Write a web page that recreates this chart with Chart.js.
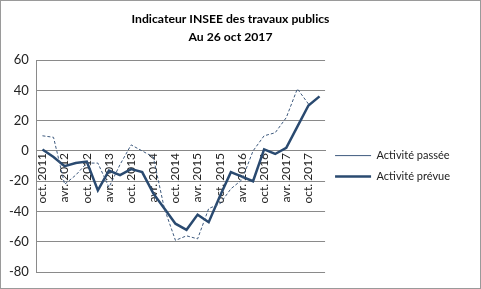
<!DOCTYPE html>
<html lang="fr">
<head>
<meta charset="utf-8">
<title>Indicateur INSEE des travaux publics</title>
<script src="https://cdn.jsdelivr.net/npm/chart.js@4/dist/chart.umd.min.js"></script>
<style>
    html, body { margin: 0; padding: 0; background: #fff; }
    #wrap { width: 479px; height: 287px; border: 1px solid #9a9a9a; }
</style>
</head>
<body>
<div id="wrap"><canvas id="chart" width="479" height="287"></canvas></div>
<script>
// Trimestres, d'oct. 2011 a janv. 2018
const quarters = [
    'oct. 2011', 'janv. 2012', 'avr. 2012', 'juil. 2012', 'oct. 2012',
    'janv. 2013', 'avr. 2013', 'juil. 2013', 'oct. 2013',
    'janv. 2014', 'avr. 2014', 'juil. 2014', 'oct. 2014',
    'janv. 2015', 'avr. 2015', 'juil. 2015', 'oct. 2015',
    'janv. 2016', 'avr. 2016', 'juil. 2016', 'oct. 2016',
    'janv. 2017', 'avr. 2017', 'juil. 2017', 'oct. 2017',
    'janv. 2018'
];
const activitePassee = [10, 9, -22, -16, -8, -8, -24, -9, 4, 0, -4, -38, -59, -56, -58, -38, -35, -25, -19, 0, 10, 12, 22, 41, 31, null];
const activitePrevue = [1, -4, -10, -8, -7, -26, -13, -16, -12, -14, -28, -38, -48, -52, -42, -47, -30, -14, -17, -20, 1, -2, 2, 16, 30, 36];
const yTicks = [-80, -60, -40, -20, 0, 20, 40, 60];

const FONT = 'Lato, "Liberation Sans", sans-serif';

document.addEventListener('DOMContentLoaded', function() {
    const ctx = document.getElementById('chart').getContext('2d');

    new Chart(ctx, {
        type: 'line',
        data: {
            labels: quarters,
            datasets: [
                {
                    label: 'Activité passée',
                    data: activitePassee,
                    borderColor: '#3e5a7e',
                    backgroundColor: '#3e5a7e',
                    borderWidth: 1,
                    borderDash: [3, 2],
                    pointRadius: 0,
                    tension: 0
                },
                {
                    label: 'Activité prévue',
                    data: activitePrevue,
                    borderColor: '#2a4a70',
                    backgroundColor: '#2a4a70',
                    borderWidth: 2.5,
                    pointRadius: 0,
                    tension: 0
                }
            ]
        },
        options: {
            responsive: false,
            animation: false,
            layout: { padding: { left: 0, right: 20, top: 0, bottom: 12 } },
            plugins: {
                title: {
                    display: true,
                    text: ['Indicateur INSEE des travaux publics', 'Au 26 oct 2017'],
                    color: '#000',
                    font: { family: FONT, size: 12.2, weight: 'bold', lineHeight: '18px' },
                    padding: { top: 9, bottom: 14 }
                },
                legend: {
                    position: 'right',
                    fullSize: false,
                    maxWidth: 160,
                    labels: {
                        usePointStyle: true,
                        pointStyle: 'line',
                        pointStyleWidth: 36,
                        color: '#222',
                        font: { family: FONT, size: 11 },
                        padding: 10
                    }
                },
                tooltip: { enabled: false }
            },
            scales: {
                x: {
                    position: { y: 0 },
                    offset: true,
                    // the axis sits on the zero line, it takes no room below the plot
                    afterFit: function(axis) { axis.height = 0; },
                    grid: { display: false, drawTicks: false },
                    border: { display: true, color: '#888' },
                    ticks: {
                        autoSkip: false,
                        maxRotation: 90,
                        minRotation: 90,
                        padding: 2,
                        color: '#222',
                        font: { family: FONT, size: 12 },
                        callback: function(value, index) {
                            return index % 2 === 0 ? quarters[index] : '';
                        }
                    }
                },
                y: {
                    min: yTicks[0],
                    max: yTicks[yTicks.length - 1],
                    afterBuildTicks: function(axis) {
                        axis.ticks = yTicks.map(v => ({ value: v }));
                    },
                    grid: { color: '#8a8a8a', drawTicks: false },
                    border: { display: true, color: '#8a8a8a' },
                    ticks: {
                        padding: 8,
                        color: '#222',
                        font: { family: FONT, size: 13 }
                    }
                }
            }
        }
    });
});
</script>
</body>
</html>
